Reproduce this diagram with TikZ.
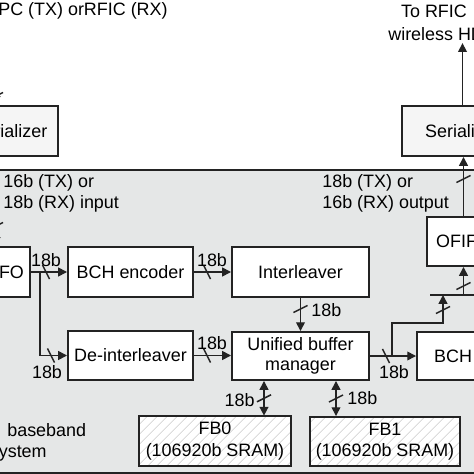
\documentclass[tikz,border=0pt]{standalone}
\usepackage{fontspec}
\setmainfont{Liberation Sans}
\usetikzlibrary{arrows.meta,decorations.markings,patterns.meta,calc}

\definecolor{sysgray}{RGB}{229,231,231}
\definecolor{ink}{RGB}{35,35,35}
\definecolor{outbox}{RGB}{245,245,245}

\begin{document}
\begin{tikzpicture}[
  x=0.2mm, y=-0.2mm,
  >={Triangle[length=5pt,width=5pt]},
  font=\fontsize{10.2pt}{12.2pt}\selectfont,
  blk/.style  = {draw=ink, fill=white, line width=1.1pt, minimum height=10mm,
                 inner sep=0pt, align=center},
  oblk/.style = {blk, fill=outbox},
  mem/.style  = {blk, fill=none, preaction={fill=white},
                 pattern={Lines[angle=45,distance=4pt,line width=0.4pt]},
                 pattern color=gray!40},
  wire/.style = {draw=ink, line width=0.85pt},
  bus/.style  = {wire, postaction={decorate},
                 decoration={markings, mark=at position #1 with
                   {\draw[ink, line width=0.85pt, -] (-2pt,4pt) -- (2pt,-4pt);}}},
  wd/.style   = {inner sep=0pt},
]
\useasboundingbox (0,0) rectangle (474,474);

%% ---- baseband subsystem ---------------------------------------------------
\fill[sysgray] (-20,170) rectangle (500,473);
\draw[ink, line width=1.4pt] (-20,170) rectangle (500,473);

%% ---- blocks ---------------------------------------------------------------
\node[oblk, minimum width=23.2mm] (deser) at (0,131) {Deserializer};
\node[oblk, minimum width=24.2mm] (ser) at (462.5,131) {Serializer};
\node[blk, minimum width=11.6mm] (ififo) at (1,272) {IFIFO};
\node[blk, minimum width=25mm] (bchenc) at (130.5,272) {BCH encoder};
\node[blk, minimum width=25mm, minimum height=9.8mm] (deint) at (130.5,355.5) {De-interleaver};
\node[blk, minimum width=27.4mm] (intl) at (300.5,272) {Interleaver};
\node[blk, minimum width=27.4mm, minimum height=9.6mm,
      font=\fontsize{10.2pt}{11.4pt}\selectfont] (ubm) at (300.5,356) {Unified buffer\\manager};
\node[blk, minimum width=14.6mm, minimum height=9.8mm] (ofifo) at (463.5,241.5) {OFIFO};
\node[blk, minimum width=28.4mm, minimum height=9.6mm] (bchdec) at (488,356) {BCH decoder};
\node[mem, minimum width=30.4mm] (fb0) at (215,441) {FB0\\(106920b SRAM)};
\node[mem, minimum width=30mm, minimum height=9.8mm] (fb1) at (385,441.5) {FB1\\(106920b SRAM)};

%% ---- texts ----------------------------------------------------------------
\node[wd, anchor=north west] (src) at (-2,2) {PC (TX) orRFIC (RX)};
\node[wd, anchor=north] (dst1) at (434,5) {To RFIC};
\node[wd, anchor=base west, inner ysep=1.5pt] (dst2) at (388,40) {wireless HD};
\node[wd, anchor=north west, align=left] (inlbl) at (3,174) {16b (TX) or\\18b (RX) input};
\node[wd, anchor=north west, align=left] (outlbl) at (322,174) {18b (TX) or\\16b (RX) output};
\node[wd, anchor=base west] (sys1) at (7,436) {baseband};
\node[wd, anchor=base east] (sys2) at (47,457) {subsystem};

%% ---- connectors -----------------------------------------------------------
\coordinate (lft)  at (-4,0);
\coordinate (split) at (40,272);
\coordinate (m0)   at (264,0);
\coordinate (m1)   at (336,0);
\coordinate (tap)  at (392,0);
\coordinate (jog)  at (443,323);
\coordinate (barL) at (430,295);
\coordinate (barR) at (500,295);

\draw[bus=-1.8mm, ->] (src.south -| lft) -- (deser.north -| lft);
\draw[bus=-4mm, ->] (deser.south -| lft) -- (ififo.north -| lft);
\draw[bus=-4.2mm, ->] (ififo) -- (bchenc);
\draw[bus=-3.2mm, ->] (split) |- (deint.west);
\draw[bus=-4.8mm, ->] (bchenc) -- (intl);
\draw[bus=-4.8mm, ->] (deint.east) -- (deint.east -| ubm.west);
\draw[bus=-4.4mm, ->] (intl) -- (ubm);
\draw[bus=0.5, <->] (ubm.south -| m0) -- (fb0.north -| m0);
\draw[bus=0.5, <->] (ubm.south -| m1) -- (fb1.north -| m1);
\draw[bus=-6mm, ->] (ubm.east) -- (ubm.east -| bchdec.west);
\draw[bus=-3mm, ->] (ubm.east -| tap) |- (jog) -- (jog |- barL);
\draw[ink, line width=1.1pt] (barL) -- (barR);
\draw[bus=-3.8mm, ->] (ofifo.south |- barL) -- (ofifo.south);
\draw[bus=-4.4mm, ->] (ofifo.north) -- (ofifo.north |- ser.south);
\draw[wire, ->] (ser.north) -- (ser.north |- dst2.south);

%% ---- bus widths -----------------------------------------------------------
\node[wd] (w1) at (46,260) {18b};
\node[wd] (w2) at (47,372) {18b};
\node[wd] (w3) at (212,260) {18b};
\node[wd] (w4) at (212,343) {18b};
\node[wd, anchor=west] (w5) at (311,310) {18b};
\node[wd, anchor=east] (w6) at (255,400) {18b};
\node[wd, anchor=west] (w7) at (347,398) {18b};
\node[wd] (w8) at (394,372) {18b};

\end{tikzpicture}
\end{document}
